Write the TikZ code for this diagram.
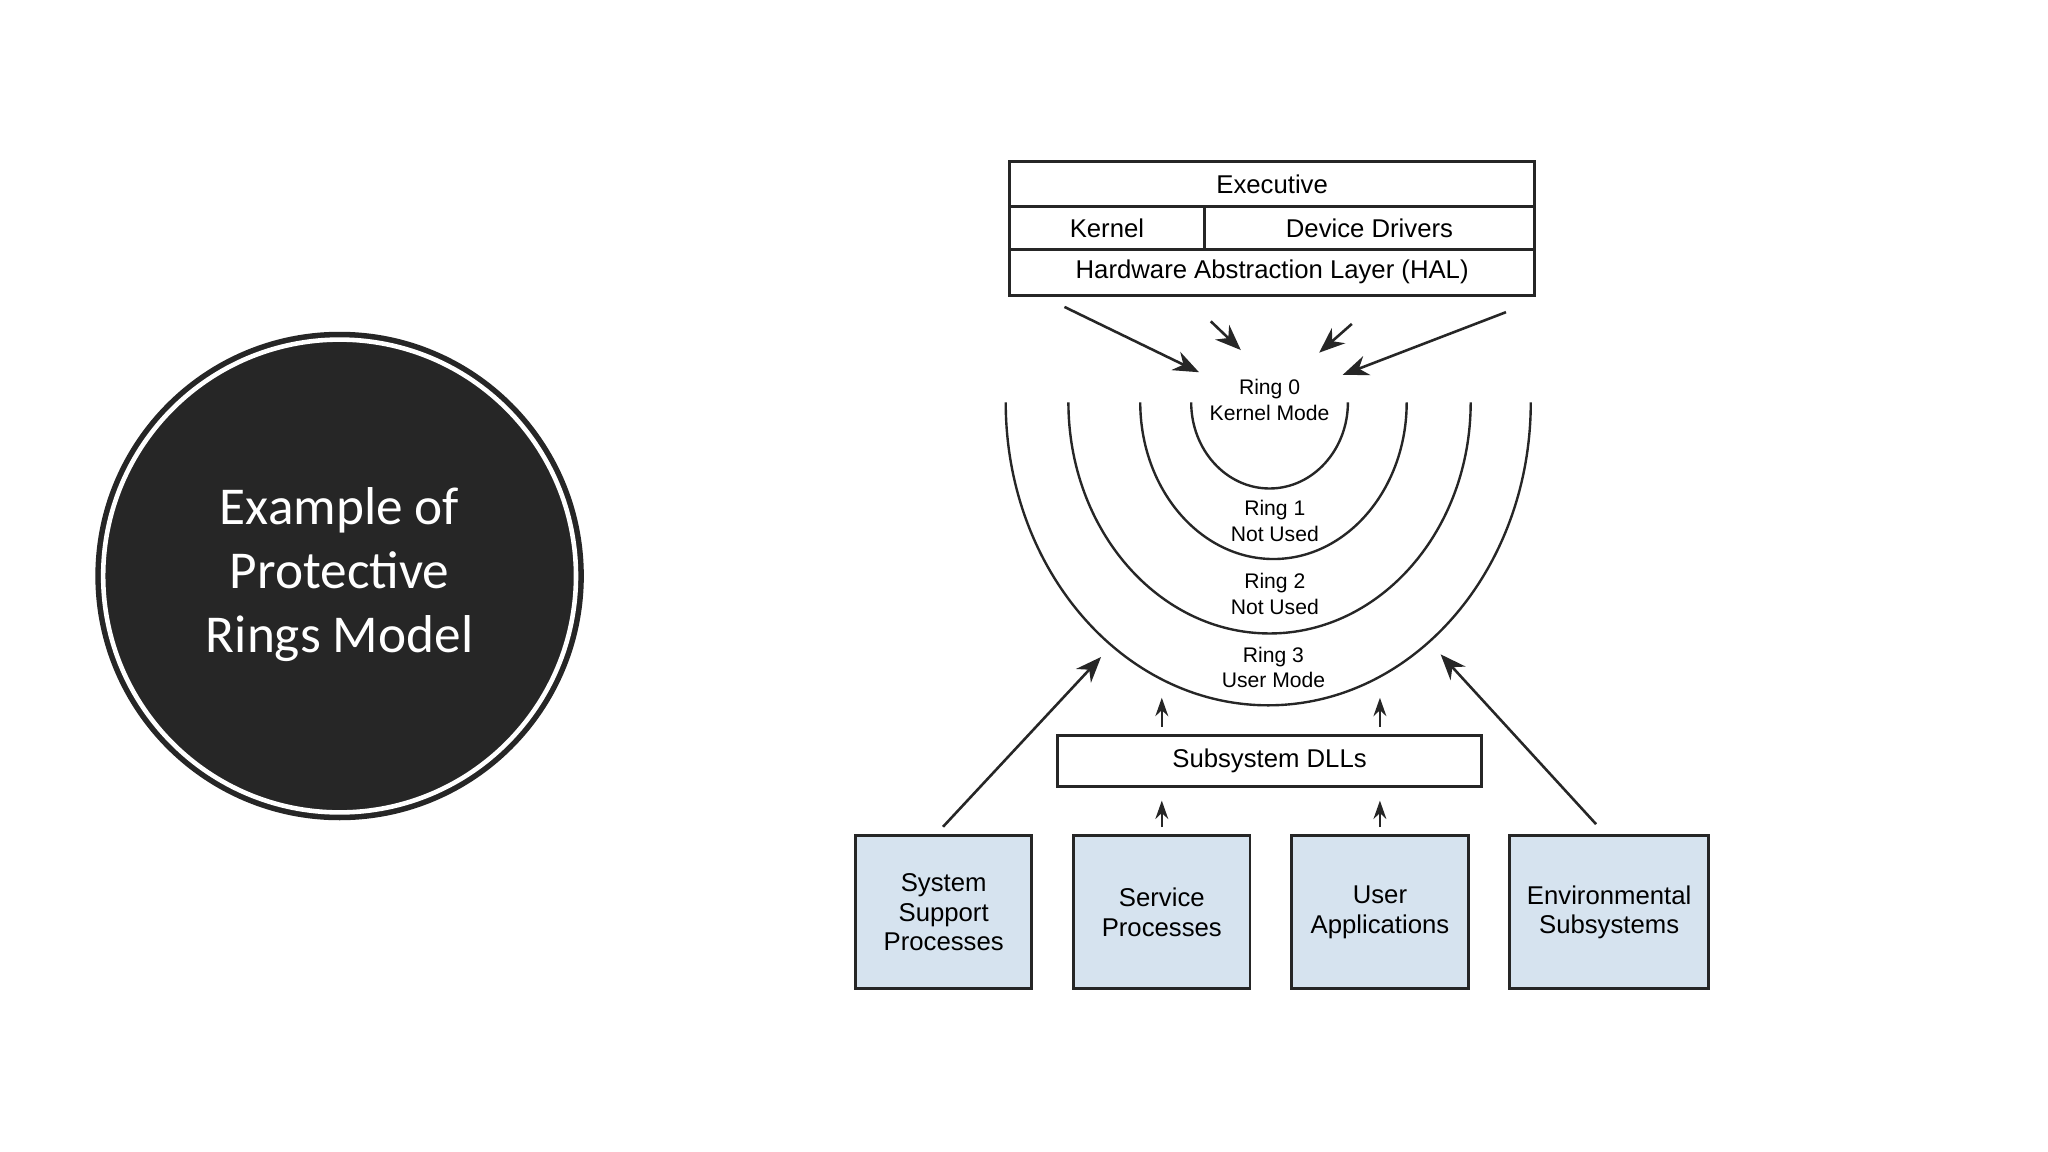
\documentclass[tikz,border=0pt]{standalone}
\usepackage{fontspec}
\setmainfont{Liberation Sans}
\newfontfamily\titlefont{Carlito}
\usetikzlibrary{arrows.meta}
\definecolor{darkdisc}{HTML}{262626}
\definecolor{procblue}{HTML}{D6E3EF}
\tikzset{
  layer/.style={draw=black!85, line width=1.6pt, inner sep=0pt, font=\fontsize{14}{16}\selectfont},
  proc/.style={layer, fill=procblue, minimum width=3.375cm, minimum height=2.925cm, align=center},
  ring/.style={black!85, line width=1.3pt},
  ringlabel/.style={align=center, font=\fontsize{11.5}{14}\selectfont},
  flow/.style={-{Stealth[length=14pt,width=11pt]}, black!85, line width=1.4pt},
  shortflow/.style={-{Stealth[length=10pt,width=7pt]}, black!85, line width=1.3pt}
}
\begin{document}
\begin{tikzpicture}[x=0.025cm, y=-0.025cm]
		\useasboundingbox[fill=white] (0,0) rectangle (1568,882);
		% title disc
		\fill[darkdisc] (260,441) circle (187);
		\draw[white, line width=2.5pt] (260,441) circle (181);
		\node[text=white, align=center, font=\titlefont\fontsize{29}{35}\selectfont] (title) at (260,440) {Example of\\Protective\\Rings Model};
		
		% kernel side layers
		\node[layer, minimum width=10.05cm, minimum height=0.85cm] (exec) at (974,141) {Executive};
		\node[layer, minimum width=3.725cm, minimum height=0.825cm] (kern) at (847.5,174.5) {Kernel};
		\node[layer, minimum width=6.325cm, minimum height=0.825cm] (drv) at (1048.5,174.5) {Device Drivers};
		\node[layer, minimum width=10.05cm, minimum height=0.875cm] (hal) at (974,208.5) {Hardware Abstraction Layer (HAL)};
		
		% rings
		\draw[ring] (912,308) arc[start angle=180, end angle=0, x radius=60, y radius=66];
		\draw[ring] (873,308) arc[start angle=180, end angle=0, x radius=102, y radius=120];
		\draw[ring] (818,308) arc[start angle=180, end angle=0, x radius=154, y radius=177];
		\draw[ring] (770,308) arc[start angle=180, end angle=0, x radius=201, y radius=232];
		\node[ringlabel] (r0) at (972,306) {Ring 0\\Kernel Mode};
		\node[ringlabel] (r1) at (976,399) {Ring 1\\Not Used};
		\node[ringlabel] (r2) at (976,455) {Ring 2\\Not Used};
		\node[ringlabel] (r3) at (975,511) {Ring 3\\User Mode};
		
		% arrows into ring 0
		\coordinate (a1) at (815,235); \coordinate (b1) at (918,285);
		\coordinate (a2) at (927,246); \coordinate (b2) at (950,268);
		\coordinate (a3) at (1035,248); \coordinate (b3) at (1010,270);
		\coordinate (a4) at (1153,239); \coordinate (b4) at (1028,287);
		\draw[flow] (a1) -- (b1);
		\draw[flow] (a2) -- (b2);
		\draw[flow] (a3) -- (b3);
		\draw[flow] (a4) -- (b4);
		
		% user side
		\node[layer, minimum width=8.1cm, minimum height=0.975cm] (dll) at (972,582.5) {Subsystem DLLs};
		\node[proc] (ssp) at (722.5,698.5) {System\\Support\\Processes};
		\node[proc] (svc) at (889.5,698.5) {Service\\Processes};
		\node[proc] (app) at (1056.5,698.5) {User\\Applications};
		\node[proc, minimum width=3.8cm] (env) at (1232,698.5) {Environmental\\Subsystems};
		
		\coordinate (c1) at (722,633); \coordinate (d1) at (843,503);
		\coordinate (c4) at (1222,631); \coordinate (d4) at (1103,501);
		\draw[flow] (c1) -- (d1);
		\draw[flow] (c4) -- (d4);
		\draw[shortflow] ([yshift=4pt]dll.north -| svc) -- ++(0,-22) coordinate (u1);
		\draw[shortflow] ([yshift=4pt]dll.north -| app) -- ++(0,-22) coordinate (u2);
		\draw[shortflow] ([yshift=4pt]svc.north) -- ([yshift=-7pt]dll.south -| svc);
		\draw[shortflow] ([yshift=4pt]app.north) -- ([yshift=-7pt]dll.south -| app);
\end{tikzpicture}
\end{document}
